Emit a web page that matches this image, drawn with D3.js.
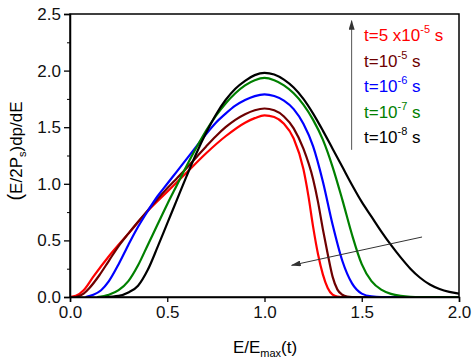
<!DOCTYPE html>
<html>
<head>
<meta charset="utf-8">
<script src="https://cdn.jsdelivr.net/npm/d3@7"></script>
<style>
  body { margin: 0; background: #fff; }
  svg { display: block; font-family: "Liberation Sans", Arial, sans-serif; }
</style>
</head>
<body>
<div id="chart"></div>
<script>
// values: [E/Emax, (E/2Ps)dp/dE]
const red = [[0,0],[0.03,0.01],[0.07,0.06],[0.12,0.18],[0.2,0.36],[0.3,0.56],[0.4,0.76],[0.5,0.93],[0.6,1.1],[0.7,1.27],[0.8,1.42],[0.9,1.54],[0.95,1.58],[1.0,1.605],
  [1.05,1.59],[1.1,1.53],[1.15,1.40],[1.2,1.13],[1.225,0.90],[1.25,0.62],[1.275,0.38],[1.3,0.2],[1.325,0.08],[1.35,0.02],[1.375,0.003],[1.4,0],[1.6,0],[2,0]];
const brown = [[0.03,0],[0.07,0.03],[0.1,0.08],[0.15,0.19],[0.2,0.32],[0.25,0.45],[0.3,0.56],[0.35,0.665],[0.4,0.765],[0.45,0.865],[0.5,0.96],[0.55,1.05],[0.6,1.14],[0.65,1.235],[0.7,1.33],[0.75,1.42],[0.8,1.5],[0.85,1.565],[0.9,1.615],[0.95,1.65],[1.0,1.665],
  [1.05,1.65],[1.1,1.595],[1.15,1.49],[1.2,1.31],[1.25,1.04],[1.275,0.84],[1.3,0.6],[1.325,0.38],[1.35,0.18],[1.375,0.065],[1.4,0.02],[1.425,0.004],[1.45,0],[1.6,0],[2,0]];
const blue = [[0.08,0],[0.12,0.02],[0.16,0.06],[0.2,0.14],[0.25,0.29],[0.3,0.46],[0.35,0.62],[0.4,0.76],[0.45,0.89],[0.5,1.0],[0.55,1.11],[0.6,1.22],[0.65,1.33],[0.7,1.44],[0.75,1.54],[0.8,1.62],[0.85,1.69],[0.9,1.74],[0.95,1.775],[1.0,1.79],
  [1.05,1.775],[1.1,1.735],[1.15,1.66],[1.2,1.53],[1.25,1.33],[1.3,1.02],[1.35,0.64],[1.4,0.32],[1.45,0.12],[1.5,0.03],[1.55,0.005],[1.6,0],[1.8,0],[2,0]];
const green = [[0.14,0],[0.2,0.02],[0.25,0.06],[0.3,0.14],[0.35,0.28],[0.4,0.46],[0.45,0.64],[0.5,0.82],[0.55,0.99],[0.6,1.16],[0.65,1.32],[0.7,1.47],[0.75,1.6],[0.8,1.71],[0.85,1.8],[0.9,1.87],[0.95,1.915],[1.0,1.935],
  [1.05,1.915],[1.1,1.87],[1.15,1.80],[1.2,1.70],[1.25,1.565],[1.3,1.39],[1.35,1.15],[1.4,0.86],[1.45,0.55],[1.5,0.29],[1.55,0.14],[1.6,0.065],[1.65,0.028],[1.7,0.01],[1.75,0.002],[1.8,0],[2,0]];
const black = [[0.18,0],[0.25,0.01],[0.3,0.04],[0.35,0.1],[0.4,0.24],[0.45,0.44],[0.5,0.65],[0.55,0.86],[0.6,1.07],[0.65,1.27],[0.7,1.45],[0.75,1.61],[0.8,1.74],[0.85,1.84],[0.9,1.91],[0.95,1.96],[1.0,1.98],
  [1.05,1.965],[1.1,1.92],[1.15,1.85],[1.2,1.75],[1.25,1.62],[1.3,1.47],[1.35,1.31],[1.4,1.15],[1.45,0.99],[1.5,0.84],[1.55,0.71],[1.6,0.58],[1.65,0.46],[1.7,0.35],[1.75,0.25],[1.8,0.17],[1.85,0.11],[1.9,0.07],[1.95,0.045],[2.0,0.03]];

const legendBase = ["t=5 x10", "t=10", "t=10", "t=10", "t=10"];
const legendExp = ["-5", "-5", "-6", "-7", "-8"];
const xTicks = [0, 0.5, 1.0, 1.5, 2.0];
const yTicks = [0, 0.5, 1.0, 1.5, 2.0, 2.5];
const yMinor = [0.25, 0.75, 1.25, 1.75, 2.25];

const series = [red, brown, blue, green, black];
const colors = ["#ff0000", "#6e0000", "#0000ff", "#008000", "#000000"];

const width = 474, height = 362;
const margin = {top: 14, right: 15, bottom: 65, left: 70};

const svg = d3.select("#chart").append("svg")
    .attr("width", width)
    .attr("height", height);

const x = d3.scaleLinear().domain([0, 2]).range([margin.left, width - margin.right]);
const y = d3.scaleLinear().domain([0, 2.5]).range([height - margin.bottom, margin.top]);

// curves
const line = d3.line()
    .x(d => x(d[0]))
    .y(d => y(d[1]))
    .curve(d3.curveMonotoneX);

svg.append("g")
    .selectAll("path")
    .data(series)
    .join("path")
    .attr("d", line)
    .attr("fill", "none")
    .attr("stroke", (d, i) => colors[i])
    .attr("stroke-width", 2.2);

// frame
svg.append("rect")
    .attr("x", x(0)).attr("y", y(2.5))
    .attr("width", x(2) - x(0)).attr("height", y(0) - y(2.5))
    .attr("fill", "none").attr("stroke", "#000").attr("stroke-width", 1.5);

// axes
const xAxis = svg.append("g")
    .attr("transform", `translate(0,${y(0)})`)
    .call(d3.axisBottom(x).tickValues(xTicks).tickFormat(d3.format(".1f")).tickSize(5).tickPadding(4));
const yAxis = svg.append("g")
    .attr("transform", `translate(${x(0)},0)`)
    .call(d3.axisLeft(y).tickValues(yTicks).tickFormat(d3.format(".1f")).tickSize(6).tickPadding(3));
svg.append("g")
    .attr("transform", `translate(${x(0)},0)`)
    .call(d3.axisLeft(y).tickValues(yMinor).tickFormat("").tickSize(3))
    .call(g => g.select(".domain").remove());

[xAxis, yAxis].forEach(g => {
    g.select(".domain").attr("stroke-width", 1.5);
    g.selectAll("line").attr("stroke-width", 1.3);
    g.selectAll("text").attr("font-size", 17).attr("font-family", "Liberation Sans, Arial, sans-serif").attr("fill", "#111");
});

// axis titles
const xt = svg.append("text")
    .attr("x", 265).attr("y", 353)
    .attr("text-anchor", "middle")
    .attr("font-size", 17);
xt.append("tspan").text("E/E");
xt.append("tspan").attr("font-size", 11).attr("dy", 4).text("max");
xt.append("tspan").attr("dy", -4).text("(t)");

const yt = svg.append("text")
    .attr("transform", "translate(22,151) rotate(-90)")
    .attr("text-anchor", "middle")
    .attr("font-size", 17);
yt.append("tspan").attr("font-size", 20).text("(");
yt.append("tspan").text("E/2P");
yt.append("tspan").attr("font-size", 11).attr("dy", 4).text("s");
yt.append("tspan").attr("dy", -4).text(")dp/dE");

// legend
const legend = svg.append("g");
legendBase.forEach((t, i) => {
    const tx = legend.append("text")
        .attr("x", 364).attr("y", 41 + i * 25.5)
        .attr("font-size", 17)
        .attr("fill", colors[i]);
    tx.append("tspan").text(t);
    tx.append("tspan").attr("font-size", 11).attr("dy", -8).text(legendExp[i]);
    tx.append("tspan").attr("dy", 8).text(" s");
});

// arrows
const defs = svg.append("defs");
defs.append("marker")
    .attr("id", "head")
    .attr("viewBox", "0 0 10 6")
    .attr("refX", 9).attr("refY", 3)
    .attr("markerWidth", 10).attr("markerHeight", 6)
    .attr("markerUnits", "userSpaceOnUse")
    .attr("orient", "auto")
    .append("path").attr("d", "M0,0L10,3L0,6Z").attr("fill", "#333");

svg.append("line")
    .attr("x1", x(1.448)).attr("y1", y(1.3))
    .attr("x2", x(1.448)).attr("y2", y(2.44))
    .attr("stroke", "#555").attr("stroke-width", 1)
    .attr("marker-end", "url(#head)");

svg.append("line")
    .attr("x1", x(1.81)).attr("y1", y(0.53))
    .attr("x2", x(1.14)).attr("y2", y(0.28))
    .attr("stroke", "#333").attr("stroke-width", 1)
    .attr("marker-end", "url(#head)");
</script>
</body>
</html>
